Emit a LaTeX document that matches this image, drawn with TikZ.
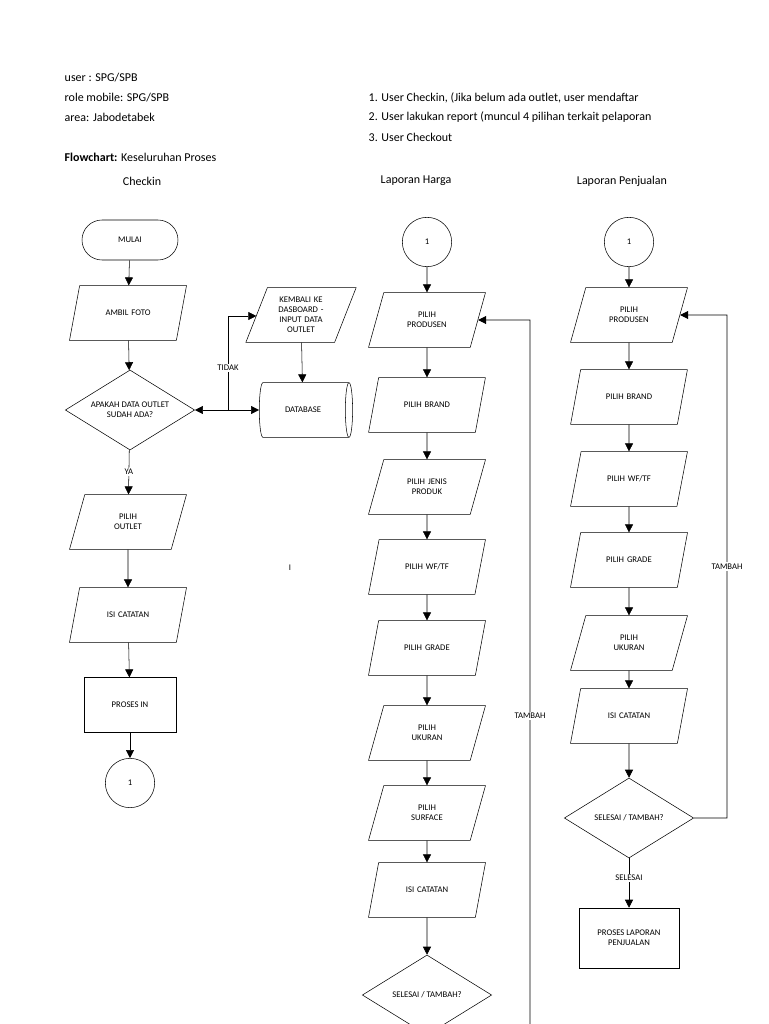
\documentclass[tikz,border=0pt]{standalone}
\usepackage{fontspec}
\setmainfont{Carlito}
\usetikzlibrary{shapes.geometric,arrows.meta}
\begin{document}
\begin{tikzpicture}[x=0.75pt,y=-0.75pt,
  every node/.style={font=\fontsize{6.5}{7.5}\selectfont,align=center},
  io/.style={draw,trapezium,trapezium left angle=70,trapezium right angle=110,
    minimum width=88pt,minimum height=41pt,text width=36pt,inner xsep=1pt,trapezium stretches=true},
  dec/.style={draw,diamond,aspect=1.6,minimum width=97pt,minimum height=60pt,inner sep=0pt},
  con/.style={draw,circle,minimum size=37pt},
  flow/.style={-{Triangle[length=6pt,width=6pt]}},
  head/.style={font=\fontsize{9}{11}\selectfont,anchor=west}]
\useasboundingbox (0,0) rectangle (768,1024);
\clip (0,0) rectangle (768,1024);
% header
\node[head] at (60,78) {user : SPG/SPB};
\node[head] at (60,98) {role mobile: SPG/SPB};
\node[head] at (60,117) {area: Jabodetabek};
\node[head] at (60,157) {\textbf{Flowchart:} Keseluruhan Proses};
\begin{scope}
\clip (360,85) rectangle (664,150);
\node[head] at (364,98) {1. User Checkin, (Jika belum ada outlet, user mendaftar};
\node[head] at (364,117) {2. User lakukan report (muncul 4 pilihan terkait pelaporan};
\node[head] at (364,137) {3. User Checkout};
\end{scope}
\node[head,anchor=center] at (142,181) {Checkin};
\node[head,anchor=center] at (416,181) {Laporan Harga};
\node[head,anchor=center] at (622,181) {Laporan Penjualan};
% checkin
\node[draw,rounded corners=15pt,minimum width=72pt,minimum height=30pt] (mulai) at (130,240) {MULAI};
\node[io] (foto) at (128,313) {AMBIL FOTO};
\node[dec] (cek) at (130,410) {APAKAH DATA OUTLET\\SUDAH ADA?};
\node[io] (outlet) at (128,522) {PILIH OUTLET};
\node[io] (catat) at (128,615) {ISI CATATAN};
\node[draw,minimum width=69pt,minimum height=41pt] (prosesin) at (130,705) {PROSES IN};
\node[con] (c1) at (130,783) {1};
\node[io,minimum width=83pt] (kembali) at (301,315) {KEMBALI KE\\DASBOARD -\\INPUT DATA\\OUTLET};
\node[draw,cylinder,shape border rotate=0,aspect=0.5,minimum width=41pt,minimum height=70pt] (db) at (303,410) {DATABASE};
\coordinate (cab) at (228,410);
\draw[flow] (mulai) -- (foto);
\draw[flow] (foto) -- (cek);
\draw[flow] (cek) -- node[fill=white,inner sep=1pt] {YA} (outlet);
\draw[flow] (outlet) -- (catat);
\draw[flow] (catat) -- (prosesin);
\draw[flow] (prosesin) -- (c1);
\draw[flow] (cab) -- (cek.east);
\draw[flow] (cab) -- (db.west);
\draw[flow] (cab) -- node[pos=0.45,fill=white,inner sep=1pt] {TIDAK} (228,316) -- (kembali.west|-228,316);
\draw[flow] (kembali) -- (db);
\node at (290,568) {I};
% laporan harga
\node[con] (h0) at (427,242) {1};
\node[io] (h1) at (427,320) {PILIH\\PRODUSEN};
\node[io] (h2) at (427,405) {PILIH BRAND};
\node[io] (h3) at (427,487) {PILIH JENIS\\PRODUK};
\node[io] (h4) at (427,567) {PILIH WF/TF};
\node[io] (h5) at (427,648) {PILIH GRADE};
\node[io] (h6) at (427,733) {PILIH\\UKURAN};
\node[io] (h7) at (427,813) {PILIH\\SURFACE};
\node[io] (h8) at (427,890) {ISI CATATAN};
\node[dec] (h9) at (427,995) {SELESAI / TAMBAH?};
\foreach \a/\b in {h0/h1,h1/h2,h2/h3,h3/h4,h4/h5,h5/h6,h6/h7,h7/h8,h8/h9}
  \draw[flow] (\a) -- (\b);
\coordinate (hb) at (530,1040);
\draw[flow] (hb) -- node[pos=0.45,fill=white,inner sep=1pt] {TAMBAH} (530,320) -- (h1.east);
% laporan penjualan
\node[con] (p0) at (629,242) {1};
\node[io] (p1) at (629,315) {PILIH\\PRODUSEN};
\node[io] (p2) at (629,397) {PILIH BRAND};
\node[io] (p3) at (629,479) {PILIH WF/TF};
\node[io] (p4) at (629,560) {PILIH GRADE};
\node[io] (p5) at (629,643) {PILIH\\UKURAN};
\node[io] (p6) at (629,716) {ISI CATATAN};
\node[dec] (p7) at (629,818) {SELESAI / TAMBAH?};
\node[draw,minimum width=75pt,minimum height=45pt] (p8) at (629,938) {PROSES LAPORAN\\PENJUALAN};
\foreach \a/\b in {p0/p1,p1/p2,p2/p3,p3/p4,p4/p5,p5/p6,p6/p7}
  \draw[flow] (\a) -- (\b);
\draw[flow] (p7) -- node[pos=0.4,fill=white,inner sep=1pt] {SELESAI} (p8);
\draw[flow] (p7.east) -- (727,818) -- node[pos=0.5,fill=white,inner sep=1pt] {TAMBAH} (727,315) -- (p1.east);
\end{tikzpicture}
\end{document}
